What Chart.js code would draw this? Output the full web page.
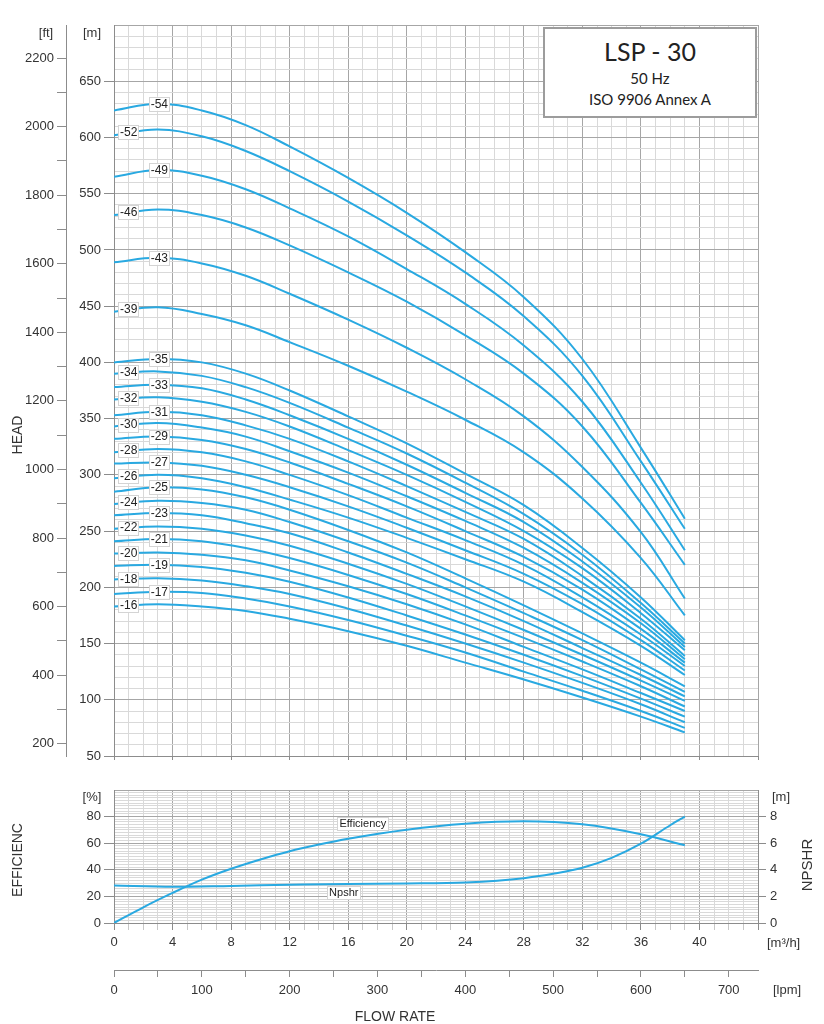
<!DOCTYPE html>
<html>
<head>
<meta charset="utf-8">
<title>LSP - 30</title>
<script src="https://cdn.jsdelivr.net/npm/chart.js@4.4.1/dist/chart.umd.min.js"></script>
<style>
  body { margin: 0; background: #fff; }
  #wrap { position: relative; width: 824px; height: 1024px; overflow: hidden; }
  #wrap canvas { position: absolute; left: 0; }
  #head { top: 0; }
  #eff { top: 770px; }
  #title {
    position: absolute; left: 543px; top: 27px; width: 214px; height: 91px;
    box-sizing: border-box; border: 2px solid #9c9c9c; background: #fff;
    text-align: center; color: #222; font-family: Lato, 'DejaVu Sans', sans-serif;
  }
  #title .t1 { font-size: 25px; margin-top: 8px; line-height: 28px; }
  #title .t2 { font-size: 15px; margin-top: 3px; line-height: 20px; }
  #title .t3 { font-size: 15px; line-height: 22px; }
</style>
</head>
<body>
<div id="wrap">
  <canvas id="head" width="824" height="770"></canvas>
  <canvas id="eff" width="824" height="254"></canvas>
  <div id="title">
    <div class="t1">LSP - 30</div>
    <div class="t2">50 Hz</div>
    <div class="t3">ISO 9906 Annex A</div>
  </div>
</div>
<script>
// debit (m3/h) onde as curvas de altura foram lidas
var flowPoints = [0, 3, 6, 9, 12, 16, 20, 24, 28, 32, 36, 39];

// altura manometrica (m) por numero de estagios
var head54 = [624, 630, 624, 611, 592, 564, 533, 498, 458, 403, 324, 261];
var head52 = [602, 607, 601, 588, 570, 543, 513, 480, 441, 388, 312, 252];
var head49 = [565, 571, 566, 554, 537, 512, 483, 452, 415, 365, 293, 233];
var head46 = [531, 536, 531, 520, 504, 480, 454, 424, 390, 343, 275, 220];
var head43 = [489, 493, 488, 477, 461, 438, 413, 385, 352, 307, 249, 190];
var head39 = [445, 449, 443, 433, 418, 397, 374, 349, 320, 279, 226, 175];
var head35 = [400, 403, 400, 390, 375, 352, 328, 301, 273, 235, 191, 153];
var head34 = [390, 392, 388, 378, 364, 342, 319, 293, 265, 229, 186, 150];
var head33 = [378, 380, 377, 367, 353, 332, 309, 284, 258, 223, 182, 147];
var head32 = [367, 369, 365, 356, 343, 322, 300, 276, 250, 217, 177, 144];
var head31 = [353, 356, 353, 344, 332, 312, 290, 267, 243, 210, 172, 139];
var head30 = [343, 346, 342, 334, 321, 302, 281, 259, 235, 204, 168, 136];
var head29 = [332, 334, 331, 323, 311, 292, 272, 250, 227, 198, 163, 133];
var head28 = [320, 323, 320, 312, 300, 282, 262, 242, 220, 191, 158, 130];
var head27 = [310, 311, 308, 300, 289, 272, 253, 233, 212, 185, 153, 126];
var head26 = [297, 300, 297, 289, 278, 262, 244, 225, 205, 178, 148, 122];
var head25 = [285, 289, 287, 280, 269, 251, 231, 208, 184, 159, 133, 112];
var head24 = [274, 277, 275, 269, 258, 241, 222, 200, 177, 153, 127, 107];
var head23 = [264, 266, 264, 257, 248, 231, 212, 192, 170, 146, 122, 103];
var head22 = [252, 254, 252, 246, 237, 221, 203, 183, 162, 140, 117, 99];
var head21 = [241, 243, 241, 235, 226, 211, 194, 175, 155, 134, 112, 94];
var head20 = [230, 231, 229, 224, 215, 201, 185, 167, 147, 127, 106, 90];
var head19 = [219, 220, 218, 213, 205, 191, 175, 158, 140, 121, 101, 85];
var head18 = [207, 208, 206, 201, 194, 181, 166, 150, 133, 115, 96, 80];
var head17 = [194, 196, 195, 190, 183, 171, 157, 142, 125, 108, 90, 75];
var head16 = [183, 185, 183, 179, 172, 161, 148, 133, 118, 102, 85, 71];

var stages = [54, 52, 49, 46, 43, 39, 35, 34, 33, 32, 31, 30, 29, 28, 27, 26, 25, 24, 23, 22, 21, 20, 19, 18, 17, 16];
var headCurves = [head54, head52, head49, head46, head43, head39, head35, head34, head33, head32, head31, head30, head29,
                  head28, head27, head26, head25, head24, head23, head22, head21, head20, head19, head18, head17, head16];

// rendimento (%) e NPSH requerido (m)
var effFlow = [0, 2, 4, 6, 8, 10, 12, 14, 16, 20, 24, 28, 32, 36, 39];
var effValues = [0, 11.8, 22.6, 32.6, 40.8, 47.8, 54, 59, 63.4, 70.2, 74.7, 76.5, 74.2, 66.7, 58.4];
var npshFlow = [0, 4, 8, 12, 16, 20, 24, 28, 30, 32, 34, 36, 38, 39];
var npshValues = [2.82, 2.72, 2.79, 2.87, 2.94, 2.97, 3.05, 3.37, 3.7, 4.15, 4.9, 5.96, 7.35, 8.0];

// rotulos dos eixos
var flowTicks = [0, 4, 8, 12, 16, 20, 24, 28, 32, 36, 40];
var lpmTicks = [0, 100, 200, 300, 400, 500, 600, 700];
var headTicksM = [50, 100, 150, 200, 250, 300, 350, 400, 450, 500, 550, 600, 650];
var headTicksFt = [200, 400, 600, 800, 1000, 1200, 1400, 1600, 1800, 2000, 2200];
var effTicks = [0, 20, 40, 60, 80];
var npshTicks = [0, 2, 4, 6, 8];

var BLUE = '#29a9e1';
var GRID_LIGHT = '#d9d9d9';
var GRID_DARK = '#a6a6a6';
var AXIS = '#8c8c8c';
var TEXT = '#333';
var FONT = "'Liberation Sans', Arial, sans-serif";
var NONE = 'rgba(0,0,0,0)';

Chart.defaults.font.family = FONT;
Chart.defaults.font.size = 13;
Chart.defaults.color = TEXT;

function toPoints(xs, ys) {
  return xs.map(function(x, i) { return { x: x, y: ys[i] }; });
}

//Rotulos dos estagios sobre as curvas
var curveLabels = {
  id: 'curveLabels',
  afterDatasetsDraw: function(chart) {
    var ctx = chart.ctx, sx = chart.scales.x, sy = chart.scales.y;
    ctx.save();
    ctx.font = '12px ' + FONT;
    ctx.textAlign = 'center';
    ctx.textBaseline = 'middle';
    stages.forEach(function(n, i) {
      var vals = headCurves[i];
      var q, v;
      if (i % 2 === 0) { q = 3.1; v = vals[1]; }
      else { q = 1.0; v = vals[0] + (vals[1] - vals[0]) * 0.55; }
      var px = sx.getPixelForValue(q), py = sy.getPixelForValue(v);
      var txt = '-' + n;
      var w = ctx.measureText(txt).width + 3;
      ctx.fillStyle = '#fff';
      ctx.fillRect(px - w / 2, py - 7, w, 14);
      ctx.strokeStyle = '#d4d4d4';
      ctx.lineWidth = 1;
      ctx.strokeRect(Math.round(px - w / 2) + 0.5, Math.round(py - 7) + 0.5, Math.round(w), 14);
      ctx.fillStyle = '#222';
      ctx.fillText(txt, px, py + 0.5);
    });
    ctx.restore();
  }
};

var headTexts = {
  id: 'headTexts',
  afterDraw: function(chart) {
    var ctx = chart.ctx;
    ctx.save();
    ctx.fillStyle = TEXT;
    ctx.font = '13px ' + FONT;
    ctx.textAlign = 'center';
    ctx.textBaseline = 'middle';
    ctx.fillText('[ft]', 46, 33);
    ctx.fillText('[m]', 92, 33);
    ctx.translate(18, 435);
    ctx.rotate(-Math.PI / 2);
    ctx.font = '14px ' + FONT;
    ctx.fillText('HEAD', 0, 0);
    ctx.restore();
  }
};

var effTexts = {
  id: 'effTexts',
  afterDraw: function(chart) {
    var ctx = chart.ctx, sx = chart.scales.x, sy = chart.scales.y, sn = chart.scales.yn;
    ctx.save();
    ctx.fillStyle = TEXT;
    ctx.textAlign = 'center';
    ctx.textBaseline = 'middle';
    ctx.font = '13px ' + FONT;
    ctx.fillText('[%]', 92, 27);
    ctx.fillText('[m]', 781, 27);
    ctx.textAlign = 'left';
    ctx.fillText('[m\u00b3/h]', 767, 173);
    ctx.fillText('[lpm]', 773, 220);
    ctx.textAlign = 'center';
    ctx.font = '14px ' + FONT;
    ctx.fillText('FLOW RATE', 395, 247);

    // caixas dos nomes das curvas
    ctx.font = '11px ' + FONT;
    [['Efficiency', sx.getPixelForValue(17), sy.getPixelForValue(74.5)],
     ['Npshr', sx.getPixelForValue(15.7), sn.getPixelForValue(2.27)]].forEach(function(l) {
      var w = ctx.measureText(l[0]).width + 4;
      ctx.fillStyle = '#fff';
      ctx.fillRect(l[1] - w / 2, l[2] - 6.5, w, 13);
      ctx.strokeStyle = '#d4d4d4';
      ctx.strokeRect(Math.round(l[1] - w / 2) + 0.5, Math.round(l[2] - 6.5) + 0.5, Math.round(w), 13);
      ctx.fillStyle = '#222';
      ctx.fillText(l[0], l[1], l[2] + 0.5);
    });

    ctx.font = '14px ' + FONT;
    ctx.fillStyle = TEXT;
    ctx.save();
    ctx.translate(18, 90);
    ctx.rotate(-Math.PI / 2);
    ctx.fillText('EFFICIENC', 0, 0);
    ctx.restore();
    ctx.translate(808, 95);
    ctx.rotate(-Math.PI / 2);
    ctx.font = '15px ' + FONT;
    ctx.fillText('NPSHR', 0, 0);
    ctx.restore();
  }
};

var headDatasets = stages.map(function(n, i) {
  return {
    label: '-' + n,
    data: toPoints(flowPoints, headCurves[i]),
    borderColor: BLUE,
    borderWidth: 2,
    pointRadius: 0,
    fill: false,
    tension: 0.4
  };
});

var headChart = new Chart(document.getElementById('head'), {
  type: 'line',
  data: { datasets: headDatasets },
  options: {
    responsive: false,
    animation: false,
    events: [],
    layout: { padding: { top: 25, right: 66, bottom: 0, left: 0 } },
    plugins: { legend: { display: false }, tooltip: { enabled: false } },
    scales: {
      x: {
        type: 'linear', min: 0, max: 44,
        afterFit: function(s) { s.height = 14; },
        ticks: { display: false, stepSize: 1, autoSkip: false },
        grid: {
          color: function(c) { return c.tick.value % 4 === 0 ? GRID_DARK : GRID_LIGHT; },
          tickLength: 4,
          tickColor: function(c) { return c.tick.value % 4 === 0 ? AXIS : NONE; }
        },
        border: { color: AXIS }
      },
      y: {
        type: 'linear', position: 'left', min: 50, max: 700, weight: 0,
        afterFit: function(s) { s.width = 48; },
        ticks: {
          stepSize: 10, autoSkip: false, padding: 3,
          callback: function(v) { return headTicksM.indexOf(v) >= 0 ? v : ''; }
        },
        grid: {
          color: function(c) { return c.tick.value % 50 === 0 ? GRID_DARK : GRID_LIGHT; },
          tickLength: 10,
          tickColor: function(c) { return headTicksM.indexOf(c.tick.value) >= 0 ? AXIS : NONE; }
        },
        border: { color: AXIS }
      },
      yft: {
        type: 'linear', position: 'left', min: 50 / 0.3048, max: 700 / 0.3048, weight: 1,
        afterFit: function(s) { s.width = 66; },
        ticks: {
          stepSize: 100, autoSkip: false, padding: 3, includeBounds: false,
          callback: function(v) { return headTicksFt.indexOf(v) >= 0 ? v : ''; }
        },
        grid: {
          drawOnChartArea: false,
          tickLength: 9,
          tickColor: function(c) { return c.tick.value % 100 === 0 ? AXIS : NONE; }
        },
        border: { color: AXIS }
      }
    }
  },
  plugins: [curveLabels, headTexts]
});

var effChart = new Chart(document.getElementById('eff'), {
  type: 'line',
  data: {
    datasets: [
      { label: 'Efficiency', data: toPoints(effFlow, effValues), yAxisID: 'y',
        borderColor: BLUE, borderWidth: 2, pointRadius: 0, fill: false, cubicInterpolationMode: 'monotone' },
      { label: 'Npshr', data: toPoints(npshFlow, npshValues), yAxisID: 'yn',
        borderColor: BLUE, borderWidth: 2, pointRadius: 0, fill: false, cubicInterpolationMode: 'monotone' }
    ]
  },
  options: {
    responsive: false,
    animation: false,
    events: [],
    layout: { padding: { top: 20, right: 0, bottom: 0, left: 0 } },
    plugins: { legend: { display: false }, tooltip: { enabled: false } },
    scales: {
      x: {
        type: 'linear', position: 'bottom', min: 0, max: 44, weight: 0,
        afterFit: function(s) { s.height = 47; },
        ticks: {
          stepSize: 1, autoSkip: false, maxRotation: 0, minRotation: 0, padding: 5,
          callback: function(v) { return flowTicks.indexOf(v) >= 0 ? v : ''; }
        },
        grid: {
          color: function(c) { return c.tick.value % 4 === 0 ? GRID_DARK : GRID_LIGHT; },
          tickLength: 7,
          tickColor: function(c) { return c.tick.value % 4 === 0 ? AXIS : '#c8c8c8'; }
        },
        border: { color: AXIS }
      },
      xlpm: {
        type: 'linear', position: 'bottom', min: 0, max: 44 * 1000 / 60, weight: 1,
        afterFit: function(s) { s.height = 54; },
        ticks: {
          stepSize: 50, autoSkip: false, maxRotation: 0, minRotation: 0, padding: 6, includeBounds: false,
          callback: function(v) { return lpmTicks.indexOf(v) >= 0 ? v : ''; }
        },
        grid: {
          drawOnChartArea: false,
          tickLength: 7,
          tickColor: function(c) { return c.tick.value % 50 === 0 ? AXIS : NONE; }
        },
        border: { color: AXIS }
      },
      y: {
        type: 'linear', position: 'left', min: 0, max: 100,
        afterFit: function(s) { s.width = 114; },
        ticks: {
          stepSize: 2, autoSkip: false, padding: 3,
          callback: function(v) { return effTicks.indexOf(v) >= 0 ? v : ''; }
        },
        grid: {
          color: function(c) { return c.tick.value % 20 === 0 ? GRID_DARK : GRID_LIGHT; },
          tickLength: 10,
          tickColor: function(c) { return effTicks.indexOf(c.tick.value) >= 0 ? AXIS : NONE; }
        },
        border: { color: AXIS }
      },
      yn: {
        type: 'linear', position: 'right', min: 0, max: 10,
        afterFit: function(s) { s.width = 66; },
        ticks: {
          stepSize: 2, autoSkip: false, padding: 4,
          callback: function(v) { return npshTicks.indexOf(v) >= 0 ? v : ''; }
        },
        grid: {
          drawOnChartArea: false,
          tickLength: 8,
          tickColor: function(c) { return npshTicks.indexOf(c.tick.value) >= 0 ? AXIS : NONE; }
        },
        border: { color: AXIS }
      }
    }
  },
  plugins: [effTexts]
});
</script>
</body>
</html>
